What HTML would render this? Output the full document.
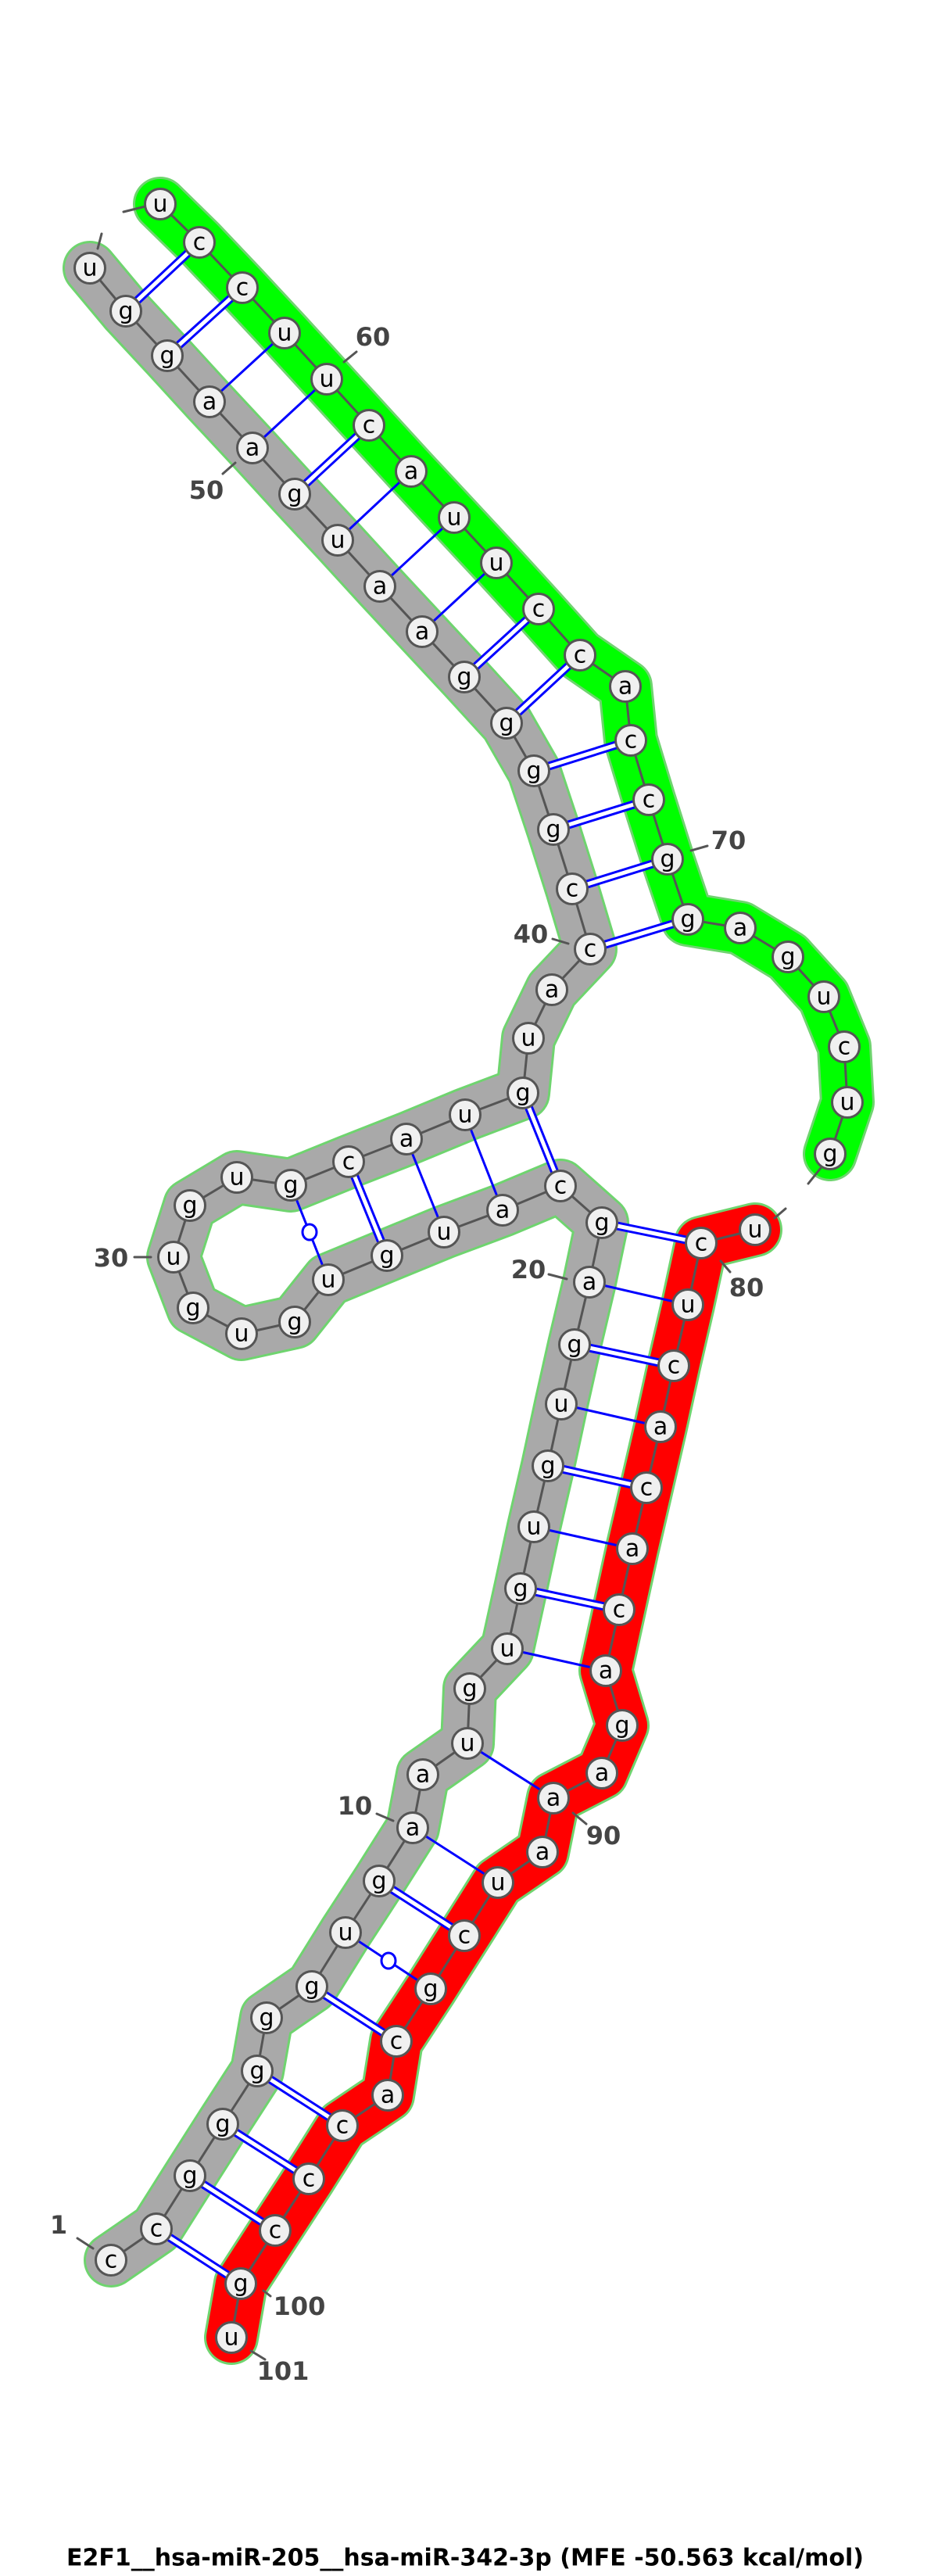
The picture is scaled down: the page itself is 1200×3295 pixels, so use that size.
<!DOCTYPE html>
<html><head><meta charset="utf-8"><style>
html,body{margin:0;padding:0;background:#fff;}
svg{display:block;}
.n circle{fill:#f0f0f0;stroke:#555;stroke-width:3;}
.n text{font-family:"DejaVu Sans","Liberation Sans",sans-serif;font-size:30px;fill:#000;text-anchor:middle;dominant-baseline:central;}
.lb{font-family:"DejaVu Sans","Liberation Sans",sans-serif;font-size:32px;font-weight:bold;fill:#444;text-anchor:middle;dominant-baseline:central;}
</style></head><body>
<svg width="1200" height="3295" viewBox="0 0 1200 3295" xmlns="http://www.w3.org/2000/svg">
<g fill="none" stroke-linejoin="round" stroke-linecap="round">
<polyline stroke="#6fd46f" stroke-width="70" points="142,2891 200,2851 243,2783 285,2717 329,2649 341,2581 399,2541 442,2472 485,2406 528,2338 541,2270 598,2230 601,2160 649,2109 666,2032 683,1953 701,1875 718,1796 735,1720 754,1640 770,1564 717,1517 643,1548 568,1576 495,1606 420,1637 377,1691 309,1706 247,1673 222,1608 243,1542 303,1506 372,1516 446,1486 520,1457 595,1426 669,1398 676,1328 706,1266 755,1214 732,1137 708,1061 683,986 648,925 594,866 540,808 486,750 432,691 377,632 323,573 268,514 214,455 161,398 115,343"/>
<polyline stroke="#a9a9a9" stroke-width="64" points="142,2891 200,2851 243,2783 285,2717 329,2649 341,2581 399,2541 442,2472 485,2406 528,2338 541,2270 598,2230 601,2160 649,2109 666,2032 683,1953 701,1875 718,1796 735,1720 754,1640 770,1564 717,1517 643,1548 568,1576 495,1606 420,1637 377,1691 309,1706 247,1673 222,1608 243,1542 303,1506 372,1516 446,1486 520,1457 595,1426 669,1398 676,1328 706,1266 755,1214 732,1137 708,1061 683,986 648,925 594,866 540,808 486,750 432,691 377,632 323,573 268,514 214,455 161,398 115,343"/>
<polyline stroke="#6fd46f" stroke-width="70" points="205,261 255,310 310,368 364,426 418,485 472,544 526,603 581,662 635,720 689,779 742,838 800,878 807,947 830,1023 854,1099 880,1176 947,1187 1008,1224 1054,1275 1080,1339 1084,1410 1062,1476"/>
<polyline stroke="#00ff00" stroke-width="64" points="205,261 255,310 310,368 364,426 418,485 472,544 526,603 581,662 635,720 689,779 742,838 800,878 807,947 830,1023 854,1099 880,1176 947,1187 1008,1224 1054,1275 1080,1339 1084,1410 1062,1476"/>
<polyline stroke="#6fd46f" stroke-width="70" points="966,1573 897,1590 880,1669 862,1747 845,1825 827,1903 809,1981 792,2059 775,2137 796,2207 770,2268 708,2300 694,2369 637,2408 594,2476 551,2544 507,2611 496,2680 438,2719 395,2787 352,2853 308,2921 296,2990"/>
<polyline stroke="#ff0000" stroke-width="64" points="966,1573 897,1590 880,1669 862,1747 845,1825 827,1903 809,1981 792,2059 775,2137 796,2207 770,2268 708,2300 694,2369 637,2408 594,2476 551,2544 507,2611 496,2680 438,2719 395,2787 352,2853 308,2921 296,2990"/>
<g stroke="#555" stroke-width="3">
<polyline points="142,2891 200,2851 243,2783 285,2717 329,2649 341,2581 399,2541 442,2472 485,2406 528,2338 541,2270 598,2230 601,2160 649,2109 666,2032 683,1953 701,1875 718,1796 735,1720 754,1640 770,1564 717,1517 643,1548 568,1576 495,1606 420,1637 377,1691 309,1706 247,1673 222,1608 243,1542 303,1506 372,1516 446,1486 520,1457 595,1426 669,1398 676,1328 706,1266 755,1214 732,1137 708,1061 683,986 648,925 594,866 540,808 486,750 432,691 377,632 323,573 268,514 214,455 161,398 115,343"/>
<polyline points="205,261 255,310 310,368 364,426 418,485 472,544 526,603 581,662 635,720 689,779 742,838 800,878 807,947 830,1023 854,1099 880,1176 947,1187 1008,1224 1054,1275 1080,1339 1084,1410 1062,1476"/>
<polyline points="966,1573 897,1590 880,1669 862,1747 845,1825 827,1903 809,1981 792,2059 775,2137 796,2207 770,2268 708,2300 694,2369 637,2408 594,2476 551,2544 507,2611 496,2680 438,2719 395,2787 352,2853 308,2921 296,2990"/>
<line x1="130" y1="299" x2="125" y2="318"/>
<line x1="158" y1="271" x2="186" y2="264"/>
<line x1="1034" y1="1514" x2="1050" y2="1494"/>
<line x1="991" y1="1558" x2="1005" y2="1546"/>
<line x1="99" y1="2863" x2="119" y2="2876"/>
<line x1="482" y1="2320" x2="503" y2="2329"/>
<line x1="733" y1="2319" x2="750" y2="2333"/>
<line x1="337" y1="2930" x2="346" y2="2937"/>
<line x1="321" y1="3007" x2="339" y2="3018"/>
<line x1="172" y1="1608" x2="193" y2="1608"/>
<line x1="702" y1="1630" x2="725" y2="1636"/>
<line x1="922" y1="1613" x2="934" y2="1627"/>
<line x1="707" y1="1201" x2="727" y2="1207"/>
<line x1="440" y1="463" x2="456" y2="450"/>
<line x1="285" y1="606" x2="301" y2="592"/>
<line x1="884" y1="1088" x2="905" y2="1082"/>
</g>
</g>
<g stroke-linecap="butt">
<g stroke="#0000ff" stroke-width="11">
<line x1="161" y1="398" x2="255" y2="310"/><line x1="214" y1="455" x2="310" y2="368"/>
<line x1="377" y1="632" x2="472" y2="544"/><line x1="594" y1="866" x2="689" y2="779"/>
<line x1="648" y1="925" x2="742" y2="838"/><line x1="683" y1="986" x2="807" y2="947"/>
<line x1="708" y1="1061" x2="830" y2="1023"/><line x1="732" y1="1137" x2="854" y2="1099"/>
<line x1="755" y1="1214" x2="880" y2="1176"/><line x1="669" y1="1398" x2="717" y2="1517"/>
<line x1="446" y1="1486" x2="495" y2="1606"/><line x1="770" y1="1564" x2="897" y2="1590"/>
<line x1="735" y1="1720" x2="862" y2="1747"/><line x1="701" y1="1875" x2="827" y2="1903"/>
<line x1="666" y1="2032" x2="792" y2="2059"/><line x1="485" y1="2406" x2="594" y2="2476"/>
<line x1="399" y1="2541" x2="507" y2="2611"/><line x1="329" y1="2649" x2="438" y2="2719"/>
<line x1="285" y1="2717" x2="395" y2="2787"/><line x1="243" y1="2783" x2="352" y2="2853"/>
<line x1="200" y1="2851" x2="308" y2="2921"/>
</g>
<g stroke="#ffffff" stroke-width="5">
<line x1="161" y1="398" x2="255" y2="310"/><line x1="214" y1="455" x2="310" y2="368"/>
<line x1="377" y1="632" x2="472" y2="544"/><line x1="594" y1="866" x2="689" y2="779"/>
<line x1="648" y1="925" x2="742" y2="838"/><line x1="683" y1="986" x2="807" y2="947"/>
<line x1="708" y1="1061" x2="830" y2="1023"/><line x1="732" y1="1137" x2="854" y2="1099"/>
<line x1="755" y1="1214" x2="880" y2="1176"/><line x1="669" y1="1398" x2="717" y2="1517"/>
<line x1="446" y1="1486" x2="495" y2="1606"/><line x1="770" y1="1564" x2="897" y2="1590"/>
<line x1="735" y1="1720" x2="862" y2="1747"/><line x1="701" y1="1875" x2="827" y2="1903"/>
<line x1="666" y1="2032" x2="792" y2="2059"/><line x1="485" y1="2406" x2="594" y2="2476"/>
<line x1="399" y1="2541" x2="507" y2="2611"/><line x1="329" y1="2649" x2="438" y2="2719"/>
<line x1="285" y1="2717" x2="395" y2="2787"/><line x1="243" y1="2783" x2="352" y2="2853"/>
<line x1="200" y1="2851" x2="308" y2="2921"/>
</g>
<g stroke="#0000ff" stroke-width="3">
<line x1="268" y1="514" x2="364" y2="426"/><line x1="323" y1="573" x2="418" y2="485"/>
<line x1="432" y1="691" x2="526" y2="603"/><line x1="486" y1="750" x2="581" y2="662"/>
<line x1="540" y1="808" x2="635" y2="720"/>
<line x1="595" y1="1426" x2="643" y2="1548"/><line x1="520" y1="1457" x2="568" y2="1576"/>
<line x1="372" y1="1516" x2="420" y2="1637"/>
<line x1="754" y1="1640" x2="880" y2="1669"/><line x1="718" y1="1796" x2="845" y2="1825"/>
<line x1="683" y1="1953" x2="809" y2="1981"/><line x1="649" y1="2109" x2="775" y2="2137"/>
<line x1="598" y1="2230" x2="708" y2="2300"/><line x1="528" y1="2338" x2="637" y2="2408"/>
<line x1="442" y1="2472" x2="551" y2="2544"/>
</g>
<g fill="#fff" stroke="#0000ff" stroke-width="3">
<ellipse cx="396" cy="1576" rx="9" ry="10"/>
<ellipse cx="497" cy="2508" rx="9" ry="10"/>
</g>
</g>
<g class="n">
<g transform="translate(142,2891)"><circle r="19.5"/><text>c</text></g>
<g transform="translate(200,2851)"><circle r="19.5"/><text>c</text></g>
<g transform="translate(243,2783)"><circle r="19.5"/><text>g</text></g>
<g transform="translate(285,2717)"><circle r="19.5"/><text>g</text></g>
<g transform="translate(329,2649)"><circle r="19.5"/><text>g</text></g>
<g transform="translate(341,2581)"><circle r="19.5"/><text>g</text></g>
<g transform="translate(399,2541)"><circle r="19.5"/><text>g</text></g>
<g transform="translate(442,2472)"><circle r="19.5"/><text>u</text></g>
<g transform="translate(485,2406)"><circle r="19.5"/><text>g</text></g>
<g transform="translate(528,2338)"><circle r="19.5"/><text>a</text></g>
<g transform="translate(541,2270)"><circle r="19.5"/><text>a</text></g>
<g transform="translate(598,2230)"><circle r="19.5"/><text>u</text></g>
<g transform="translate(601,2160)"><circle r="19.5"/><text>g</text></g>
<g transform="translate(649,2109)"><circle r="19.5"/><text>u</text></g>
<g transform="translate(666,2032)"><circle r="19.5"/><text>g</text></g>
<g transform="translate(683,1953)"><circle r="19.5"/><text>u</text></g>
<g transform="translate(701,1875)"><circle r="19.5"/><text>g</text></g>
<g transform="translate(718,1796)"><circle r="19.5"/><text>u</text></g>
<g transform="translate(735,1720)"><circle r="19.5"/><text>g</text></g>
<g transform="translate(754,1640)"><circle r="19.5"/><text>a</text></g>
<g transform="translate(770,1564)"><circle r="19.5"/><text>g</text></g>
<g transform="translate(717,1517)"><circle r="19.5"/><text>c</text></g>
<g transform="translate(643,1548)"><circle r="19.5"/><text>a</text></g>
<g transform="translate(568,1576)"><circle r="19.5"/><text>u</text></g>
<g transform="translate(495,1606)"><circle r="19.5"/><text>g</text></g>
<g transform="translate(420,1637)"><circle r="19.5"/><text>u</text></g>
<g transform="translate(377,1691)"><circle r="19.5"/><text>g</text></g>
<g transform="translate(309,1706)"><circle r="19.5"/><text>u</text></g>
<g transform="translate(247,1673)"><circle r="19.5"/><text>g</text></g>
<g transform="translate(222,1608)"><circle r="19.5"/><text>u</text></g>
<g transform="translate(243,1542)"><circle r="19.5"/><text>g</text></g>
<g transform="translate(303,1506)"><circle r="19.5"/><text>u</text></g>
<g transform="translate(372,1516)"><circle r="19.5"/><text>g</text></g>
<g transform="translate(446,1486)"><circle r="19.5"/><text>c</text></g>
<g transform="translate(520,1457)"><circle r="19.5"/><text>a</text></g>
<g transform="translate(595,1426)"><circle r="19.5"/><text>u</text></g>
<g transform="translate(669,1398)"><circle r="19.5"/><text>g</text></g>
<g transform="translate(676,1328)"><circle r="19.5"/><text>u</text></g>
<g transform="translate(706,1266)"><circle r="19.5"/><text>a</text></g>
<g transform="translate(755,1214)"><circle r="19.5"/><text>c</text></g>
<g transform="translate(732,1137)"><circle r="19.5"/><text>c</text></g>
<g transform="translate(708,1061)"><circle r="19.5"/><text>g</text></g>
<g transform="translate(683,986)"><circle r="19.5"/><text>g</text></g>
<g transform="translate(648,925)"><circle r="19.5"/><text>g</text></g>
<g transform="translate(594,866)"><circle r="19.5"/><text>g</text></g>
<g transform="translate(540,808)"><circle r="19.5"/><text>a</text></g>
<g transform="translate(486,750)"><circle r="19.5"/><text>a</text></g>
<g transform="translate(432,691)"><circle r="19.5"/><text>u</text></g>
<g transform="translate(377,632)"><circle r="19.5"/><text>g</text></g>
<g transform="translate(323,573)"><circle r="19.5"/><text>a</text></g>
<g transform="translate(268,514)"><circle r="19.5"/><text>a</text></g>
<g transform="translate(214,455)"><circle r="19.5"/><text>g</text></g>
<g transform="translate(161,398)"><circle r="19.5"/><text>g</text></g>
<g transform="translate(115,343)"><circle r="19.5"/><text>u</text></g>
<g transform="translate(205,261)"><circle r="19.5"/><text>u</text></g>
<g transform="translate(255,310)"><circle r="19.5"/><text>c</text></g>
<g transform="translate(310,368)"><circle r="19.5"/><text>c</text></g>
<g transform="translate(364,426)"><circle r="19.5"/><text>u</text></g>
<g transform="translate(418,485)"><circle r="19.5"/><text>u</text></g>
<g transform="translate(472,544)"><circle r="19.5"/><text>c</text></g>
<g transform="translate(526,603)"><circle r="19.5"/><text>a</text></g>
<g transform="translate(581,662)"><circle r="19.5"/><text>u</text></g>
<g transform="translate(635,720)"><circle r="19.5"/><text>u</text></g>
<g transform="translate(689,779)"><circle r="19.5"/><text>c</text></g>
<g transform="translate(742,838)"><circle r="19.5"/><text>c</text></g>
<g transform="translate(800,878)"><circle r="19.5"/><text>a</text></g>
<g transform="translate(807,947)"><circle r="19.5"/><text>c</text></g>
<g transform="translate(830,1023)"><circle r="19.5"/><text>c</text></g>
<g transform="translate(854,1099)"><circle r="19.5"/><text>g</text></g>
<g transform="translate(880,1176)"><circle r="19.5"/><text>g</text></g>
<g transform="translate(947,1187)"><circle r="19.5"/><text>a</text></g>
<g transform="translate(1008,1224)"><circle r="19.5"/><text>g</text></g>
<g transform="translate(1054,1275)"><circle r="19.5"/><text>u</text></g>
<g transform="translate(1080,1339)"><circle r="19.5"/><text>c</text></g>
<g transform="translate(1084,1410)"><circle r="19.5"/><text>u</text></g>
<g transform="translate(1062,1476)"><circle r="19.5"/><text>g</text></g>
<g transform="translate(966,1573)"><circle r="19.5"/><text>u</text></g>
<g transform="translate(897,1590)"><circle r="19.5"/><text>c</text></g>
<g transform="translate(880,1669)"><circle r="19.5"/><text>u</text></g>
<g transform="translate(862,1747)"><circle r="19.5"/><text>c</text></g>
<g transform="translate(845,1825)"><circle r="19.5"/><text>a</text></g>
<g transform="translate(827,1903)"><circle r="19.5"/><text>c</text></g>
<g transform="translate(809,1981)"><circle r="19.5"/><text>a</text></g>
<g transform="translate(792,2059)"><circle r="19.5"/><text>c</text></g>
<g transform="translate(775,2137)"><circle r="19.5"/><text>a</text></g>
<g transform="translate(796,2207)"><circle r="19.5"/><text>g</text></g>
<g transform="translate(770,2268)"><circle r="19.5"/><text>a</text></g>
<g transform="translate(708,2300)"><circle r="19.5"/><text>a</text></g>
<g transform="translate(694,2369)"><circle r="19.5"/><text>a</text></g>
<g transform="translate(637,2408)"><circle r="19.5"/><text>u</text></g>
<g transform="translate(594,2476)"><circle r="19.5"/><text>c</text></g>
<g transform="translate(551,2544)"><circle r="19.5"/><text>g</text></g>
<g transform="translate(507,2611)"><circle r="19.5"/><text>c</text></g>
<g transform="translate(496,2680)"><circle r="19.5"/><text>a</text></g>
<g transform="translate(438,2719)"><circle r="19.5"/><text>c</text></g>
<g transform="translate(395,2787)"><circle r="19.5"/><text>c</text></g>
<g transform="translate(352,2853)"><circle r="19.5"/><text>c</text></g>
<g transform="translate(308,2921)"><circle r="19.5"/><text>g</text></g>
<g transform="translate(296,2990)"><circle r="19.5"/><text>u</text></g>
</g>
<text class="lb" x="75" y="2846">1</text>
<text class="lb" x="454" y="2310">10</text>
<text class="lb" x="772" y="2348">90</text>
<text class="lb" x="383" y="2950">100</text>
<text class="lb" x="362" y="3033">101</text>
<text class="lb" x="142" y="1609">30</text>
<text class="lb" x="676" y="1624">20</text>
<text class="lb" x="955" y="1647">80</text>
<text class="lb" x="679" y="1195">40</text>
<text class="lb" x="477" y="431">60</text>
<text class="lb" x="264" y="627">50</text>
<text class="lb" x="932" y="1075">70</text>
<text x="595" y="3272" font-family="'DejaVu Sans','Liberation Sans',sans-serif" font-size="30" font-weight="bold" fill="#000" text-anchor="middle" dominant-baseline="central">E2F1__hsa-miR-205__hsa-miR-342-3p (MFE -50.563 kcal/mol)</text>
</svg>
</body></html>
